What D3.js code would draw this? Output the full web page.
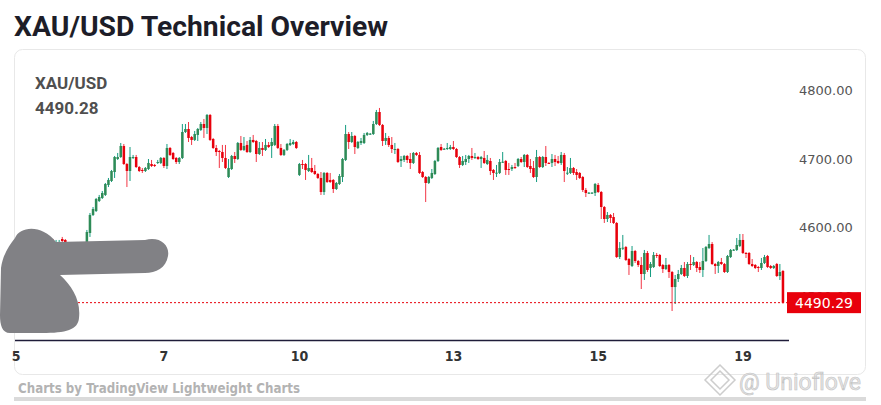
<!DOCTYPE html>
<html>
<head>
<meta charset="utf-8">
<script src="https://cdn.jsdelivr.net/npm/d3@7"></script>
<style>
  body { margin: 0; background: #fff; }
  svg { display: block; }
</style>
</head>
<body>
<div id="chart"></div>
<script>
// candles (hourly), oldest first
var opens = [
  4573.0,4577.4,4574.5,4578.8,4575.9,4580.3,4581.8,4577.4,4573.0,4575.9,
  4578.8,4575.9,4580.3,4577.4,4574.5,4583.2,4581.8,4574.5,4571.5,4574.5,
  4573.0,4574.5,4573.0,4573.0,4592.0,4618.3,4624.1,4638.7,4643.1,4647.5,
  4662.1,4667.9,4681.0,4700.0,4702.9,4719.0,4692.7,4682.5,4701.5,4702.9,
  4688.3,4684.0,4682.5,4685.4,4692.7,4691.3,4694.2,4694.2,4701.5,4689.8,
  4716.1,4708.8,4701.5,4695.6,4701.5,4739.4,4743.8,4732.1,4727.8,4735.1,
  4742.4,4751.1,4745.3,4764.3,4729.2,4716.1,4711.7,4710.2,4701.5,4673.7,
  4685.4,4704.4,4700.0,4723.4,4713.2,4720.5,4710.2,4727.8,4726.3,4707.3,
  4716.1,4713.2,4720.5,4719.0,4720.5,4748.2,4716.1,4705.9,4713.2,4720.5,
  4721.9,4724.8,4676.7,4692.7,4692.7,4682.5,4686.9,4682.5,4678.1,4672.3,
  4651.8,4679.6,4669.4,4669.4,4656.2,4663.5,4673.7,4698.6,4736.5,4724.8,
  4733.6,4716.1,4723.4,4723.4,4735.1,4736.5,4736.5,4751.1,4768.6,4749.7,
  4726.3,4730.7,4720.5,4713.2,4714.6,4697.1,4698.6,4704.4,4700.0,4694.2,
  4708.8,4705.9,4681.0,4673.7,4665.0,4672.3,4678.1,4697.1,4717.5,4714.6,
  4714.6,4714.6,4717.5,4714.6,4702.9,4691.3,4695.6,4700.0,4704.4,4701.5,
  4702.9,4700.0,4701.5,4692.7,4697.1,4684.0,4679.6,4679.6,4695.6,4697.1,
  4685.4,4685.4,4688.3,4689.8,4700.0,4695.6,4705.9,4689.8,4686.9,4673.7,
  4702.9,4688.3,4702.9,4694.2,4694.2,4700.0,4697.1,4694.2,4705.9,4679.6,
  4679.6,4686.9,4681.0,4679.6,4673.7,4654.8,4650.4,4650.4,4650.4,4662.1,
  4651.8,4629.9,4612.4,4618.3,4615.3,4606.6,4556.9,4570.1,4571.5,4554.0,
  4543.8,4565.7,4551.1,4545.3,4532.1,4562.8,4540.9,4542.3,4559.9,4559.9,
  4545.3,4539.4,4545.3,4535.0,4513.1,4524.8,4532.1,4540.9,4529.2,4546.7,
  4545.3,4549.6,4542.3,4538.0,4551.1,4570.1,4575.9,4546.7,4543.8,4549.6,
  4546.7,4535.0,4556.9,4567.2,4567.2,4573.0,4581.8,4562.8,4562.8,4546.7,
  4545.3,4542.3,4540.9,4548.2,4558.4,4543.8,4540.9,4546.7,4529.2,4536.5
];
var highs = [
  4580.3,4578.8,4581.8,4580.3,4583.2,4584.7,4583.2,4578.8,4577.4,4581.8,
  4580.3,4581.8,4583.2,4581.8,4581.8,4586.2,4583.2,4575.9,4575.9,4575.9,
  4577.4,4575.9,4575.9,4596.4,4621.2,4629.9,4643.1,4647.5,4653.3,4665.0,
  4672.3,4684.0,4704.4,4708.8,4723.4,4721.9,4694.2,4717.5,4705.9,4705.9,
  4689.8,4686.9,4688.3,4700.0,4698.6,4692.7,4698.6,4702.9,4702.9,4721.9,
  4717.5,4710.2,4702.9,4702.9,4751.1,4751.1,4754.0,4733.6,4740.9,4745.3,
  4754.0,4758.4,4765.7,4765.7,4730.7,4720.5,4713.2,4720.5,4720.5,4700.0,
  4705.9,4710.2,4724.8,4733.6,4732.1,4726.3,4732.1,4735.1,4727.8,4724.8,
  4724.8,4729.2,4724.8,4730.7,4751.1,4751.1,4721.9,4714.6,4723.4,4729.2,
  4727.8,4726.3,4694.2,4698.6,4694.2,4705.9,4701.5,4691.3,4679.6,4681.0,
  4681.0,4681.0,4679.6,4670.8,4666.4,4678.1,4701.5,4749.7,4739.4,4739.4,
  4735.1,4726.3,4730.7,4738.0,4739.4,4738.0,4755.5,4771.6,4774.5,4751.1,
  4738.0,4733.6,4732.1,4723.4,4716.1,4704.4,4705.9,4705.9,4708.8,4710.2,
  4710.2,4710.2,4682.5,4675.2,4675.2,4685.4,4698.6,4717.5,4721.9,4716.1,
  4723.4,4720.5,4726.3,4716.1,4704.4,4704.4,4705.9,4705.9,4716.1,4708.8,
  4704.4,4704.4,4711.7,4705.9,4701.5,4685.4,4691.3,4700.0,4710.2,4698.6,
  4694.2,4691.3,4694.2,4701.5,4702.9,4707.3,4707.3,4700.0,4697.1,4713.2,
  4704.4,4704.4,4719.0,4695.6,4707.3,4705.9,4704.4,4710.2,4708.8,4688.3,
  4701.5,4688.3,4685.4,4681.0,4675.2,4657.7,4651.8,4651.8,4665.0,4665.0,
  4653.3,4631.4,4622.6,4619.7,4621.2,4608.0,4578.8,4589.1,4573.0,4555.5,
  4573.0,4567.2,4552.6,4556.9,4567.2,4565.7,4549.6,4564.2,4562.8,4561.3,
  4546.7,4555.5,4546.7,4536.5,4530.7,4538.0,4545.3,4549.6,4549.6,4559.9,
  4556.9,4551.1,4549.6,4570.1,4573.0,4589.1,4578.8,4548.2,4551.1,4555.5,
  4548.2,4559.9,4568.6,4568.6,4584.7,4590.5,4590.5,4564.2,4564.2,4554.0,
  4546.7,4543.8,4555.5,4559.9,4559.9,4545.3,4545.3,4548.2,4546.7,4538.0
];
var lows = [
  4570.1,4571.5,4573.0,4573.0,4574.5,4577.4,4574.5,4570.1,4570.1,4574.5,
  4573.0,4574.5,4575.9,4574.5,4573.0,4578.8,4573.0,4570.1,4570.1,4570.1,
  4571.5,4570.1,4571.5,4571.5,4586.2,4616.8,4622.6,4637.2,4641.6,4646.0,
  4659.1,4666.4,4672.3,4698.6,4701.5,4691.3,4659.1,4667.9,4700.0,4686.9,
  4681.0,4679.6,4681.0,4684.0,4688.3,4688.3,4692.7,4692.7,4686.9,4685.4,
  4704.4,4698.6,4692.7,4692.7,4700.0,4738.0,4724.8,4720.5,4726.3,4726.3,
  4740.9,4730.7,4736.5,4726.3,4714.6,4704.4,4686.9,4695.6,4685.4,4672.3,
  4684.0,4694.2,4698.6,4711.7,4711.7,4708.8,4708.8,4723.4,4695.6,4705.9,
  4704.4,4711.7,4716.1,4701.5,4719.0,4714.6,4704.4,4704.4,4711.7,4719.0,
  4720.5,4714.6,4675.2,4685.4,4669.4,4681.0,4679.6,4676.7,4670.8,4647.5,
  4647.5,4665.0,4665.0,4650.4,4654.8,4662.1,4666.4,4697.1,4714.6,4723.4,
  4707.3,4714.6,4720.5,4721.9,4733.6,4735.1,4735.1,4749.7,4748.2,4719.0,
  4720.5,4717.5,4708.8,4707.3,4694.2,4688.3,4695.6,4694.2,4685.4,4692.7,
  4704.4,4678.1,4672.3,4637.2,4663.5,4670.8,4676.7,4695.6,4711.7,4713.2,
  4713.2,4713.2,4713.2,4701.5,4686.9,4689.8,4691.3,4694.2,4698.6,4700.0,
  4698.6,4686.9,4692.7,4691.3,4676.7,4669.4,4673.7,4678.1,4694.2,4676.7,
  4676.7,4682.5,4685.4,4688.3,4694.2,4688.3,4686.9,4679.6,4672.3,4666.4,
  4686.9,4686.9,4689.8,4692.7,4688.3,4689.8,4692.7,4691.3,4666.4,4676.7,
  4678.1,4676.7,4669.4,4670.8,4651.8,4644.5,4648.9,4648.9,4646.0,4650.4,
  4612.4,4606.6,4608.0,4606.6,4605.1,4555.5,4554.0,4567.2,4551.1,4530.7,
  4542.3,4548.2,4542.3,4510.2,4523.4,4535.0,4527.7,4540.9,4555.5,4542.3,
  4533.6,4538.0,4526.3,4478.1,4488.3,4520.4,4530.7,4527.7,4526.3,4538.0,
  4543.8,4535.0,4533.6,4527.7,4549.6,4568.6,4545.3,4532.1,4533.6,4545.3,
  4533.6,4533.6,4555.5,4565.7,4565.7,4571.5,4561.3,4555.5,4545.3,4542.3,
  4539.4,4535.0,4538.0,4546.7,4540.9,4539.4,4539.4,4527.7,4523.4,4489.0
];
var closes = [
  4577.4,4574.5,4578.8,4575.9,4580.3,4581.8,4577.4,4573.0,4575.9,4578.8,
  4575.9,4580.3,4577.4,4578.8,4578.8,4580.3,4574.5,4571.5,4574.5,4573.0,
  4574.5,4573.0,4574.5,4593.4,4618.3,4627.0,4641.6,4644.5,4650.4,4663.5,
  4669.4,4682.5,4702.9,4702.9,4719.0,4692.7,4682.5,4702.9,4702.9,4688.3,
  4682.5,4682.5,4686.9,4694.2,4689.8,4689.8,4695.6,4701.5,4689.8,4716.1,
  4705.9,4700.0,4695.6,4701.5,4739.4,4743.8,4730.7,4727.8,4736.5,4743.8,
  4751.1,4745.3,4764.3,4727.8,4716.1,4710.2,4710.2,4701.5,4686.9,4686.9,
  4704.4,4700.0,4723.4,4713.2,4719.0,4710.2,4727.8,4724.8,4707.3,4716.1,
  4713.2,4720.5,4717.5,4724.8,4748.2,4716.1,4705.9,4713.2,4721.9,4723.4,
  4724.8,4716.1,4692.7,4691.3,4684.0,4686.9,4681.0,4678.1,4672.3,4651.8,
  4679.6,4666.4,4666.4,4656.2,4665.0,4675.2,4700.0,4736.5,4724.8,4733.6,
  4717.5,4724.8,4726.3,4735.1,4738.0,4737.0,4751.1,4768.6,4749.7,4726.3,
  4730.7,4720.5,4714.6,4714.6,4695.6,4700.0,4704.4,4698.6,4694.2,4708.8,
  4705.9,4679.6,4673.7,4665.0,4673.7,4679.6,4697.1,4716.1,4713.2,4715.0,
  4716.1,4717.5,4714.6,4702.9,4691.3,4697.1,4700.0,4704.4,4701.5,4702.9,
  4700.0,4702.9,4694.2,4698.6,4682.5,4679.6,4680.0,4695.6,4696.0,4684.0,
  4685.0,4688.3,4686.9,4700.0,4695.6,4705.9,4688.3,4685.4,4673.7,4702.9,
  4688.3,4702.9,4694.2,4693.8,4700.0,4695.6,4694.2,4705.9,4682.5,4680.0,
  4686.9,4679.6,4676.7,4672.3,4654.8,4650.4,4650.8,4650.8,4663.5,4651.8,
  4629.9,4612.4,4618.3,4613.9,4606.6,4556.9,4570.1,4570.5,4552.6,4545.3,
  4565.7,4551.1,4545.3,4532.1,4562.8,4538.0,4546.7,4559.9,4559.5,4543.8,
  4539.4,4545.3,4535.0,4513.1,4524.8,4532.1,4540.9,4529.2,4546.7,4546.3,
  4549.6,4540.9,4538.0,4551.1,4571.5,4575.9,4546.7,4543.8,4549.6,4546.7,
  4535.0,4558.4,4567.2,4567.6,4574.5,4581.8,4562.8,4562.4,4546.7,4543.8,
  4540.9,4540.9,4548.2,4556.9,4542.3,4540.9,4543.8,4529.2,4535.0,4490.29
];

// time axis labels (day of month) and the candle they sit on
var dayLabels = ["5", "7", "10", "13", "15", "19"];
var dayIndex = [0, 48, 92, 142, 189, 236];

var priceTicks = [4500, 4600, 4700, 4800];
var lastPrice = 4490.29;
var headerPrice = "4490.28";

var svgWidth = 881;
var svgHeight = 405;

var pane = { left: 14, right: 788, top: 50, bottom: 340 };

var svg = d3.select("#chart")
  .append("svg")
  .attr("width", svgWidth)
  .attr("height", svgHeight);

// page title
svg.append("text")
  .attr("x", 14)
  .attr("y", 36)
  .attr("font-family", "Roboto, sans-serif")
  .attr("font-weight", "bold")
  .attr("font-size", "28px")
  .attr("fill", "#1d1d28")
  .attr("textLength", 374)
  .attr("lengthAdjust", "spacingAndGlyphs")
  .text("XAU/USD Technical Overview");

// card
svg.append("rect")
  .attr("x", 14.5)
  .attr("y", 49.5)
  .attr("width", 851)
  .attr("height", 325)
  .attr("rx", 8)
  .attr("fill", "#fff")
  .attr("stroke", "#e8e8e8");

var data = closes.map(function(c, i) {
  return { i: i, o: opens[i], h: highs[i], l: lows[i], c: c };
});

// scales
var xScale = d3.scaleBand()
  .domain(d3.range(data.length))
  .range([14.5, 784.5]);

var yScale = d3.scaleLinear()
  .domain([4500, 4800])
  .range([296, 90.5]);

var upBody = "#2e8b57", upWick = "#149c80";
var downBody = "#e8000b", downWick = "#f23645";

svg.append("clipPath")
  .attr("id", "paneClip")
  .append("rect")
  .attr("x", pane.left)
  .attr("y", pane.top)
  .attr("width", pane.right - pane.left)
  .attr("height", pane.bottom - pane.top);

var chartGroup = svg.append("g")
  .attr("clip-path", "url(#paneClip)");

var cx = function(d) { return xScale(d.i) + xScale.bandwidth() / 2; };

// wicks
chartGroup.selectAll(".wick")
  .data(data)
  .enter()
  .append("line")
  .attr("class", "wick")
  .attr("x1", cx)
  .attr("x2", cx)
  .attr("y1", d => yScale(d.h))
  .attr("y2", d => yScale(d.l))
  .attr("stroke", d => d.c >= d.o ? upWick : downWick)
  .attr("stroke-width", 1);

// bodies
var bodyW = xScale.bandwidth() * 0.82;
chartGroup.selectAll(".body")
  .data(data)
  .enter()
  .append("rect")
  .attr("class", "body")
  .attr("x", d => cx(d) - bodyW / 2)
  .attr("width", bodyW)
  .attr("y", d => yScale(Math.max(d.o, d.c)))
  .attr("height", d => Math.max(1, Math.abs(yScale(d.o) - yScale(d.c))))
  .attr("fill", d => d.c >= d.o ? upBody : downBody);

// last price line
chartGroup.append("line")
  .attr("x1", pane.left)
  .attr("x2", pane.right)
  .attr("y1", yScale(lastPrice))
  .attr("y2", yScale(lastPrice))
  .attr("stroke", downBody)
  .attr("stroke-width", 1)
  .attr("stroke-dasharray", "2,2");

// price axis
var rightAxis = d3.axisRight(yScale)
  .tickValues(priceTicks)
  .tickSize(0)
  .tickPadding(0)
  .tickFormat(d3.format(".2f"));

var yAxisG = svg.append("g")
  .attr("transform", "translate(799, 0)")
  .call(rightAxis);
yAxisG.select(".domain").remove();
yAxisG.selectAll("text")
  .attr("font-family", "DejaVu Sans, sans-serif")
  .attr("font-size", "13px")
  .attr("fill", "#555");

// last price label
var labelG = svg.append("g")
  .attr("transform", `translate(787, ${yScale(lastPrice)})`);
labelG.append("rect")
  .attr("x", 0)
  .attr("y", -10.5)
  .attr("width", 74)
  .attr("height", 21)
  .attr("fill", downBody);
labelG.append("text")
  .attr("x", 37)
  .attr("y", 0)
  .attr("dy", "0.36em")
  .attr("text-anchor", "middle")
  .attr("font-family", "DejaVu Sans, sans-serif")
  .attr("font-size", "14px")
  .attr("fill", "#fff")
  .text(lastPrice.toFixed(2));

// time axis
var bottomAxis = d3.axisBottom(xScale)
  .tickValues(dayIndex)
  .tickSize(0)
  .tickPadding(11)
  .tickFormat(function(d) { return dayLabels[dayIndex.indexOf(d)]; });

var xAxisG = svg.append("g")
  .attr("transform", `translate(0, ${pane.bottom})`)
  .call(bottomAxis);
xAxisG.select(".domain").remove();
xAxisG.selectAll("text")
  .attr("font-family", "Liberation Sans Narrow, DejaVu Sans Condensed, sans-serif")
  .attr("font-weight", "bold")
  .attr("font-size", "14px")
  .attr("fill", "#333");

svg.append("line")
  .attr("x1", 15)
  .attr("x2", 789)
  .attr("y1", pane.bottom + 0.5)
  .attr("y2", pane.bottom + 0.5)
  .attr("stroke", "#1f1c3a")
  .attr("stroke-width", 1.3);

// legend in top left of the card
svg.append("text")
  .attr("x", 35)
  .attr("y", 89)
  .attr("font-family", "Roboto, sans-serif")
  .attr("font-weight", "bold")
  .attr("font-size", "17px")
  .attr("fill", "#4f4f4f")
  .text("XAU/USD");
svg.append("text")
  .attr("x", 35)
  .attr("y", 114)
  .attr("font-family", "Roboto, sans-serif")
  .attr("font-weight", "bold")
  .attr("font-size", "17px")
  .attr("fill", "#4f4f4f")
  .text(headerPrice);

// attribution
svg.append("text")
  .attr("x", 18)
  .attr("y", 393)
  .attr("font-family", "Liberation Sans Narrow, DejaVu Sans Condensed, sans-serif")
  .attr("font-weight", "bold")
  .attr("font-size", "14px")
  .attr("fill", "#b3b3b3")
  .attr("textLength", 282)
  .attr("lengthAdjust", "spacingAndGlyphs")
  .text("Charts by TradingView Lightweight Charts");

svg.append("rect")
  .attr("x", 14)
  .attr("y", 397)
  .attr("width", 852)
  .attr("height", 4)
  .attr("fill", "#dadada");

// scribbled-over area on the left
svg.append("path")
  .attr("d", "M15,238 C20,226 42,224 56,242 L145,240 C160,236 170,245 168,256 C166,268 156,273 145,273 L60,275 C72,286 81,300 79,318 C78,330 66,333 42,333 L10,333 C2,333 0,325 0,315 L1,268 C3,254 9,246 15,238 Z")
  .attr("fill", "#818185");

// watermark
var wm = svg.append("g").attr("opacity", 0.9);
wm.append("path")
  .attr("d", "M720,365 L735,380 L720,395 L705,380 Z M720,371 L729,380 L720,389 L711,380 Z")
  .attr("fill", "none")
  .attr("stroke", "#c8c8c8")
  .attr("stroke-width", 1.5);
wm.append("text")
  .attr("x", 739)
  .attr("y", 390)
  .attr("font-family", "Roboto, sans-serif")
  .attr("font-size", "23px")
  .attr("fill", "#e2e2e2")
  .attr("stroke", "#bdbdbd")
  .attr("stroke-width", 0.6)
  .text("@ Unioflove");
</script>
</body>
</html>
